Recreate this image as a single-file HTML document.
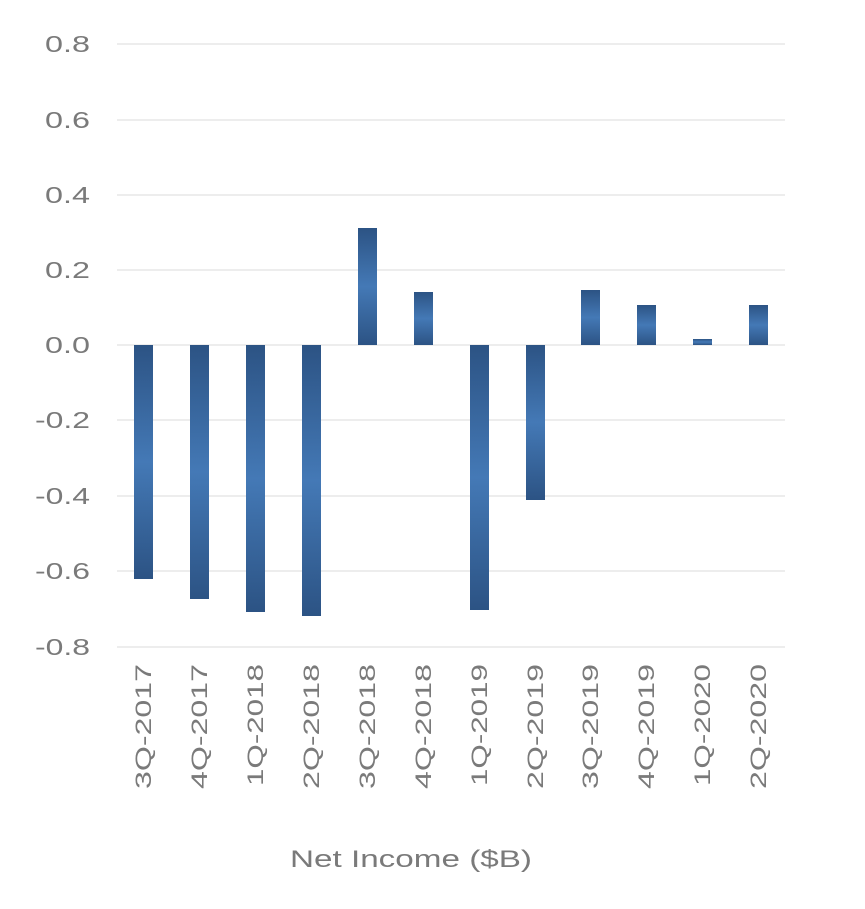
<!DOCTYPE html>
<html><head><style>
body{margin:0;background:#fff;}
svg{display:block;}
text{font-family:"Liberation Sans",sans-serif;fill:#7a7a7a;}
</style></head><body>
<svg width="865" height="909" viewBox="0 0 865 909">
<defs>
<linearGradient id="g" x1="0" y1="0" x2="0" y2="1">
<stop offset="0" stop-color="#2c5384"/>
<stop offset="0.5" stop-color="#4479b6"/>
<stop offset="1" stop-color="#2c5384"/>
</linearGradient>
</defs>
<g stroke="#e2e2e2" stroke-width="1.3">
<line x1="117" x2="785" y1="44" y2="44"/>
<line x1="117" x2="785" y1="120" y2="120"/>
<line x1="117" x2="785" y1="195" y2="195"/>
<line x1="117" x2="785" y1="270" y2="270"/>
<line x1="117" x2="785" y1="345" y2="345"/>
<line x1="117" x2="785" y1="420" y2="420"/>
<line x1="117" x2="785" y1="496" y2="496"/>
<line x1="117" x2="785" y1="571" y2="571"/>
<line x1="117" x2="785" y1="647" y2="647"/>
</g>
<g font-size="23" text-anchor="end" lengthAdjust="spacingAndGlyphs">
<text x="90" y="52" textLength="45" lengthAdjust="spacingAndGlyphs">0.8</text>
<text x="90" y="128" textLength="45" lengthAdjust="spacingAndGlyphs">0.6</text>
<text x="90" y="203" textLength="45" lengthAdjust="spacingAndGlyphs">0.4</text>
<text x="90" y="278" textLength="45" lengthAdjust="spacingAndGlyphs">0.2</text>
<text x="90" y="353" textLength="45" lengthAdjust="spacingAndGlyphs">0.0</text>
<text x="90" y="428" textLength="55" lengthAdjust="spacingAndGlyphs">-0.2</text>
<text x="90" y="504" textLength="55" lengthAdjust="spacingAndGlyphs">-0.4</text>
<text x="90" y="579" textLength="55" lengthAdjust="spacingAndGlyphs">-0.6</text>
<text x="90" y="655" textLength="55" lengthAdjust="spacingAndGlyphs">-0.8</text>
</g>
<g fill="url(#g)">
<rect x="134" y="345" width="19" height="234"/>
<rect x="190" y="345" width="19" height="254"/>
<rect x="246" y="345" width="19" height="267"/>
<rect x="302" y="345" width="19" height="271"/>
<rect x="358" y="228" width="19" height="117"/>
<rect x="414" y="292" width="19" height="53"/>
<rect x="470" y="345" width="19" height="265"/>
<rect x="526" y="345" width="19" height="155"/>
<rect x="581" y="290" width="19" height="55"/>
<rect x="637" y="305" width="19" height="40"/>
<rect x="693" y="339" width="19" height="6"/>
<rect x="749" y="305" width="19" height="40"/>
</g>
<g font-size="22" text-anchor="end">
<text transform="translate(151,664) rotate(-90)" textLength="125" lengthAdjust="spacingAndGlyphs">3Q-2017</text>
<text transform="translate(207,664) rotate(-90)" textLength="125" lengthAdjust="spacingAndGlyphs">4Q-2017</text>
<text transform="translate(263,664) rotate(-90)" textLength="122" lengthAdjust="spacingAndGlyphs">1Q-2018</text>
<text transform="translate(319,664) rotate(-90)" textLength="125" lengthAdjust="spacingAndGlyphs">2Q-2018</text>
<text transform="translate(375,664) rotate(-90)" textLength="125" lengthAdjust="spacingAndGlyphs">3Q-2018</text>
<text transform="translate(431,664) rotate(-90)" textLength="125" lengthAdjust="spacingAndGlyphs">4Q-2018</text>
<text transform="translate(487,664) rotate(-90)" textLength="122" lengthAdjust="spacingAndGlyphs">1Q-2019</text>
<text transform="translate(543,664) rotate(-90)" textLength="125" lengthAdjust="spacingAndGlyphs">2Q-2019</text>
<text transform="translate(598,664) rotate(-90)" textLength="125" lengthAdjust="spacingAndGlyphs">3Q-2019</text>
<text transform="translate(654,664) rotate(-90)" textLength="125" lengthAdjust="spacingAndGlyphs">4Q-2019</text>
<text transform="translate(710,664) rotate(-90)" textLength="122" lengthAdjust="spacingAndGlyphs">1Q-2020</text>
<text transform="translate(766,664) rotate(-90)" textLength="125" lengthAdjust="spacingAndGlyphs">2Q-2020</text>
</g>
<text x="290" y="867" font-size="24" textLength="242" lengthAdjust="spacingAndGlyphs">Net Income ($B)</text>
</svg>
</body></html>
